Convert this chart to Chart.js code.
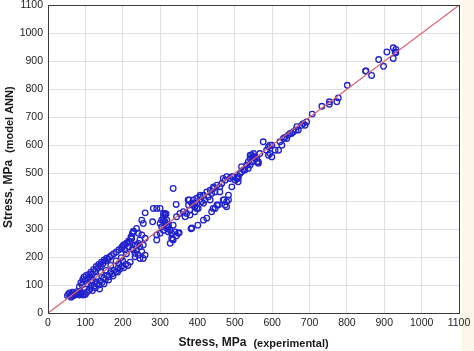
<!DOCTYPE html>
<html>
<head>
<meta charset="utf-8">
<script src="https://cdn.jsdelivr.net/npm/chart.js@4.4.1/dist/chart.umd.min.js"></script>
<style>
  html, body { margin: 0; padding: 0; background: #ffffff; }
  #wrap { width: 474px; height: 351px; position: relative; }
</style>
</head>
<body>
<div id="wrap"><canvas id="c" width="474" height="351"></canvas></div>
<script>
// ---- data ----
const experimental = [
  52,55,58,60,63,66,68,71,74,77,80,84,88,91,94,97,100,86,62,
  84,88,91,93,96,99,102,106,109,112,115,119,122,126,129,133,136,140,143,147,150,154,157,161,165,170,176,183,190,198,205,211,216,222,226,229,224,
  105,118,130,142,155,168,182,196,210,226,238,
  104,110,114,119,123,127,131,136,140,145,149,154,158,163,167,172,177,182,187,192,197,203,208,214,220,138,150,162,174,186,115,128,190,200,
  211,202,197,206,215,219,233,228,237,246,255,233,242,251,260,246,255,233,237,242,228,224,251,260,246,242,251,255,260,280,
  282,291,300,313,291,300,309,304,300,309,313,318,322,327,322,318,313,309,291,304,309,313,318,322,331,335,
  335,343,335,349,340,331,327,334,344,351,344,353,362,371,380,376,385,393,398,393,380,367,375,399,316,383,401,416,425,385,389,402,
  438,447,456,471,474,483,478,492,378,407,416,434,443,452,460,465,474,469,478,492,501,509,487,496,505,509,442,447,460,438,425,416,407,429,420,411,398,389,385,393,483,469,478,452,442,434,
  514,518,509,518,523,536,541,545,549,559,563,541,550,554,567,576,585,590,599,594,608,617,621,626,639,648,657,666,670,679,688,692,545,550,541,554,559,563,536,532,527,590,599,594,630,634,643,652,664,683,
  707,733,753,753,773,777,801,850,866,851,885,898,907,924,924,931,931,929
];
const modelANN = [
  62,68,72,60,66,74,62,69,65,76,70,64,68,72,64,70,66,78,56,
  94,108,100,120,128,116,134,124,138,130,146,140,156,150,166,160,174,168,182,176,190,186,196,192,200,206,212,218,226,236,244,250,258,272,284,292,266,
  104,118,128,146,152,170,186,198,212,230,242,
  74,82,88,80,96,90,104,100,114,110,124,120,134,130,144,140,152,148,160,156,166,162,174,170,182,86,104,118,132,146,96,112,176,186,
  249,243,231,225,237,255,243,225,225,237,243,213,207,219,207,195,195,201,302,285,290,273,279,267,261,249,332,320,358,326,
  374,374,374,356,279,285,296,308,320,332,320,302,290,296,314,332,350,356,261,332,344,326,314,308,285,314,
  445,388,261,285,290,267,249,264,276,287,344,356,362,356,368,386,392,392,374,362,350,344,404,393,354,301,314,332,339,304,386,374,
  362,374,386,404,386,421,398,451,404,415,392,439,451,457,433,463,475,481,487,487,475,481,481,487,481,469,445,433,451,427,433,421,421,415,404,398,410,404,392,380,404,404,380,386,374,404,
  499,505,487,523,511,517,529,540,558,553,540,564,570,558,570,612,582,564,558,600,582,582,612,600,624,642,648,666,654,671,671,683,564,558,552,552,540,535,540,529,511,594,600,570,624,628,636,642,654,677,
  711,739,755,746,755,769,814,865,849,865,906,882,933,910,948,942,930,933
];
const identityLine = [0, 1100];
const tickValues = [0,100,200,300,400,500,600,700,800,900,1000,1100];
const xTitleMain = "Stress, MPa";
const xTitleSub = "(experimental)";
const yTitleMain = "Stress, MPa";
const yTitleSub = "(model ANN)";

const points = experimental.map((x, i) => ({ x: x, y: modelANN[i] }));
const linePts = identityLine.map(v => ({ x: v, y: v }));

const FONT = "'Liberation Sans', Arial, sans-serif";

const bgPlugin = {
  id: 'bg',
  beforeDraw(chart) {
    const ctx = chart.ctx;
    ctx.save();
    ctx.fillStyle = '#ffffff';
    ctx.fillRect(0, 0, chart.width, chart.height);
    ctx.fillStyle = '#fcf6e8';
    ctx.fillRect(462, 0, chart.width - 462, chart.height);
    ctx.restore();
  },
  afterDraw(chart) {
    const ctx = chart.ctx;
    const a = chart.chartArea;
    ctx.save();
    ctx.strokeStyle = '#3a3a3a';
    ctx.lineWidth = 1;
    ctx.strokeRect(Math.round(a.left) + 0.5, Math.round(a.top) + 0.5,
                   Math.round(a.right - a.left), Math.round(a.bottom - a.top));
    ctx.fillStyle = '#1a1a1a';
    ctx.textBaseline = 'middle';
    const drawMixed = (main, sub, cx, cy, rot) => {
      ctx.save();
      ctx.translate(cx, cy);
      ctx.rotate(rot);
      ctx.font = "bold 12px " + FONT;
      const w1 = ctx.measureText(main).width;
      ctx.font = "bold 11px " + FONT;
      const w2 = ctx.measureText(sub).width;
      const gap = 7;
      const total = w1 + gap + w2;
      ctx.textAlign = 'left';
      ctx.font = "bold 12px " + FONT;
      ctx.fillText(main, -total / 2, 0);
      ctx.font = "bold 11px " + FONT;
      ctx.fillText(sub, -total / 2 + w1 + gap, 1);
      ctx.restore();
    };
    const cx = (a.left + a.right) / 2;
    const cy = (a.top + a.bottom) / 2;
    drawMixed(xTitleMain, xTitleSub, cx, 343, 0);
    drawMixed(yTitleMain, yTitleSub, 9, cy - 2, -Math.PI / 2);
    ctx.restore();
  }
};

new Chart(document.getElementById('c'), {
  type: 'scatter',
  data: {
    datasets: [
      {
        label: 'identity',
        type: 'line',
        data: linePts,
        borderColor: '#d9606a',
        borderWidth: 1.2,
        pointRadius: 0,
        fill: false,
        order: 0
      },
      {
        label: 'ANN',
        data: points,
        pointStyle: 'circle',
        pointRadius: 2.8,
        pointBorderWidth: 1.3,
        borderColor: '#2222cc',
        backgroundColor: 'rgba(0,0,0,0)',
        pointBackgroundColor: 'rgba(0,0,0,0)',
        order: 1
      }
    ]
  },
  options: {
    responsive: false,
    animation: false,
    devicePixelRatio: 1,
    layout: { padding: { top: 5, right: 15, left: 0, bottom: 0 } },
    plugins: { legend: { display: false }, tooltip: { enabled: false } },
    scales: {
      x: {
        type: 'linear',
        min: 0, max: 1100,
        afterBuildTicks(s) { s.ticks = tickValues.map(v => ({ value: v })); },
        afterFit(s) { s.height = 38; s.paddingLeft = 0; s.paddingRight = 0; },
        grid: { color: '#e0e0e0', lineWidth: 1, drawTicks: false },
        border: { display: true, color: '#3a3a3a' },
        ticks: { padding: 4, color: '#222', font: { family: FONT, size: 10.5 }, maxRotation: 0, autoSkip: false,
                 callback: v => String(v) }
      },
      y: {
        type: 'linear',
        min: 0, max: 1100,
        afterBuildTicks(s) { s.ticks = tickValues.map(v => ({ value: v })); },
        afterFit(s) { s.width = 48; s.paddingTop = 0; s.paddingBottom = 0; },
        grid: { color: '#e0e0e0', lineWidth: 1, drawTicks: false },
        border: { display: true, color: '#3a3a3a' },
        ticks: { padding: 5, color: '#222', font: { family: FONT, size: 10.5 }, autoSkip: false,
                 callback: v => String(v) }
      }
    }
  },
  plugins: [bgPlugin]
});
</script>
</body>
</html>
